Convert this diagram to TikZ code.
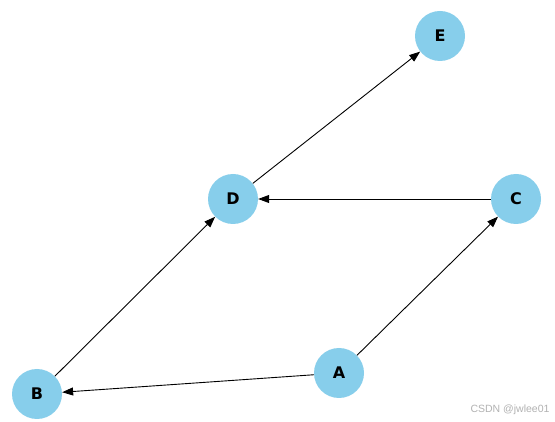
\documentclass[tikz,border=0pt]{standalone}
\usepackage{fontspec}
\setmainfont{DejaVu Sans}
\newfontfamily\wmfont{Liberation Sans}
\usetikzlibrary{arrows.meta}
\definecolor{skyblue}{HTML}{87CEEB}
\tikzset{
  vert/.style={circle, fill=skyblue, minimum size=50pt, inner sep=0pt, font=\fontsize{16}{18}\selectfont\bfseries},
  edge/.style={draw=black, line width=0.9pt, -{Triangle[length=11pt,width=8pt]}, shorten >=0pt}
}
\begin{document}
\begin{tikzpicture}[x=1pt,y=-1pt]
\useasboundingbox[fill=white] (0,0) rectangle (555,422);
\node[vert] (E) at (440,36) {E};
\node[vert] (D) at (233,199) {D};
\node[vert] (C) at (516,199) {C};
\node[vert] (A) at (339,373) {A};
\node[vert] (B) at (37,394) {B};
\draw[edge] (A) -- (B);
\draw[edge] (A) -- (C);
\draw[edge] (B) -- (D);
\draw[edge] (C) -- (D);
\draw[edge] (D) -- (E);
\node[font=\wmfont\fontsize{10.5}{12}\selectfont, text=black!30, anchor=east] (wm) at (553,410) {CSDN @jwlee01};
\end{tikzpicture}
\end{document}
